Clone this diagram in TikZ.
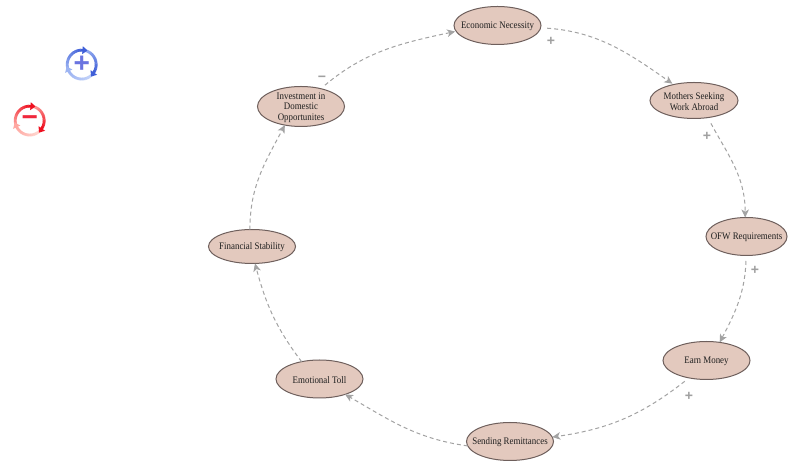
\documentclass[tikz,border=0pt]{standalone}
\usepackage{fontspec}
\setmainfont{Liberation Serif}
\newfontfamily\signfont{Liberation Sans}
\newfontfamily\factorfont[FakeStretch=0.89]{Liberation Serif}
\usetikzlibrary{arrows.meta,shapes.geometric}
\definecolor{nodefill}{HTML}{E3C9BE}
\definecolor{nodeline}{HTML}{6E5F5C}
\definecolor{linkgrey}{HTML}{A3A3A3}
\definecolor{signgrey}{HTML}{A0A0A0}
\definecolor{blueD}{HTML}{3F5FD8}
\definecolor{blueM}{HTML}{9DB4F2}
\definecolor{blueP}{HTML}{C8D6FA}
\definecolor{blueG}{HTML}{6A74E0}
\definecolor{redD}{HTML}{EE1020}
\definecolor{redM}{HTML}{FFA8A2}
\definecolor{redP}{HTML}{FFDDD6}
\definecolor{redG}{HTML}{F0283C}
\tikzset{
  factor/.style={ellipse,draw=nodeline,fill=nodefill,line width=1pt,inner sep=0pt,outer sep=0pt,
    minimum width=86pt,minimum height=38pt},
  factortext/.style={inner sep=0pt,outer sep=0pt,text=black!88,align=center,yshift=-1pt,
    font=\factorfont\fontsize{10}{10.5}\selectfont},
  link/.style={draw=linkgrey,line width=1pt,dash pattern=on 4pt off 3pt,
    -{Stealth[length=8pt,width=7.5pt,inset=2.2pt,fill=linkgrey,sep=0pt]}},
  sign/.style={text=signgrey,font=\signfont\bfseries\fontsize{14}{14}\selectfont,inner sep=0pt}
}
% ring icon: #1 centre, #2 dark, #3 mid, #4 pale, #5 glyph colour, #6 name, #7 glyph
\newcommand{\ringicon}[7]{%
  \begin{scope}[shift={#1}]
    \foreach \s in {0,...,11}{%
      \pgfmathsetmacro{\aa}{205-\s*10}\pgfmathsetmacro{\pp}{\s*100/11}%
      \draw[line width=2.8pt,color={#2!\pp!#3}] (\aa:14.5) arc[start angle=\aa,end angle=\aa-11,radius=14.5];
      \pgfmathsetmacro{\ab}{85-\s*10}%
      \draw[line width=2.8pt,color={#2!\pp!#3}] (\ab:14.5) arc[start angle=\ab,end angle=\ab-11,radius=14.5];
      \pgfmathsetmacro{\ac}{-35-\s*10}%
      \draw[line width=2.8pt,color={#3!\pp!#4}] (\ac:14.5) arc[start angle=\ac,end angle=\ac-11,radius=14.5];
    }
    \fill[#2,rotate=85]  (14.5,-4.5) -- (10.5,0.5) -- (18.5,0.5) -- cycle;
    \fill[#2,rotate=-35] (14.5,-4.5) -- (10.5,0.5) -- (18.5,0.5) -- cycle;
    \fill[#3,rotate=205] (14.5,-4.5) -- (10.5,0.5) -- (18.5,0.5) -- cycle;
    \node[inner sep=0pt,text=#5,font=\signfont\bfseries\fontsize{28}{28}\selectfont] (#6) at (0,0) {#7};
  \end{scope}}
\begin{document}
\begin{tikzpicture}[x=1pt,y=1pt]
\useasboundingbox (0,0) rectangle (800,468);
\fill[white] (0,0) rectangle (800,468);

\node[factor,minimum width=87pt,minimum height=38pt,label={[factortext]center:Economic Necessity}] (eco)  at (497.5,442.5) {};
\node[factor,minimum width=88pt,minimum height=36pt,label={[factortext]center:Mothers Seeking\\Work Abroad}] (moth) at (694,367.5) {};
\node[factor,minimum width=81pt,minimum height=38pt,label={[factortext]center:OFW Requirements}] (ofw)  at (746.5,231.5) {};
\node[factor,minimum width=87pt,minimum height=38pt,label={[factortext]center:Earn Money}] (earn) at (706.5,107.5) {};
\node[factor,minimum width=87pt,minimum height=38pt,label={[factortext]center:Sending Remittances}] (send) at (510,26.5) {};
\node[factor,minimum width=87pt,minimum height=38pt,label={[factortext]center:Emotional Toll}] (emo)  at (319.5,89) {};
\node[factor,minimum width=87pt,minimum height=34pt,label={[factortext]center:Financial Stability}] (fin)  at (252,221.5) {};
\node[factor,minimum width=87pt,minimum height=40pt,label={[factortext]center:Investment in\\Domestic\\Opportunites}] (inv)  at (301,361.5) {};

\draw[link,shorten <=6.5pt,shorten >=1.5pt] (eco.-3) to[out=-4,in=145] (moth.142.6);
\draw[link,shorten <=6.5pt] (moth.-51) to[out=-62,in=90] (ofw.94.6);
\draw[link,shorten <=5.5pt] (ofw.-91) to[out=-92,in=62] (earn.54);
\draw[link,shorten <=5.5pt] (earn.225) to[out=-142,in=8] (send.6);
\draw[link] (send.186) to[out=172,in=-30] (emo.-31.5);
\draw[link] (emo.136) to[out=127,in=-75] (fin.-80);
\draw[link] (fin.97) to[out=90,in=-118] (inv.229);
\draw[link,shorten <=5.5pt,shorten >=1pt] (inv.42) to[out=40,in=-168] (eco.188);

\node[sign] (s1) at (551,427) {+};
\node[sign] (s2) at (707,332) {+};
\node[sign] (s3) at (755,198) {+};
\node[sign] (s4) at (689,72) {+};
\node[sign] (s5) at (322,389) {−};

\ringicon{(81.7,403.4)}{blueD}{blueM}{blueP}{blueG}{plusicon}{+}
\ringicon{(29.7,347.4)}{redD}{redM}{redP}{redG}{minusicon}{−}
\end{tikzpicture}
\end{document}
